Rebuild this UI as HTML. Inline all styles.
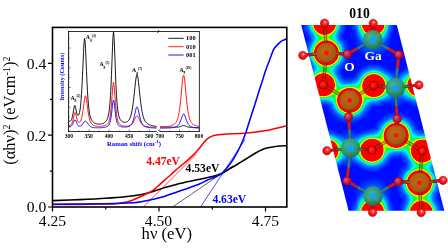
<!DOCTYPE html>
<html><head><meta charset="utf-8"><title>figure</title>
<style>
html,body{margin:0;padding:0;background:#fff;}
body{width:448px;height:252px;overflow:hidden;}
svg{display:block;}
text{font-family:"Liberation Serif",serif;}
.s{font-family:"Liberation Sans",sans-serif;font-weight:bold;}
</style></head><body>
<svg width="448" height="252" viewBox="0 0 448 252">
<defs>
<clipPath id="cp"><polygon points="301.2,25 396.8,25 444.3,210.7 348.6,210.7"/></clipPath>
<clipPath id="mp"><rect x="52.5" y="27.2" width="234.3" height="179.8"/></clipPath>
<radialGradient id="gF"><stop offset="0" stop-color="#fff" stop-opacity="1"/><stop offset="0.477" stop-color="#fff" stop-opacity="1"/><stop offset="0.493" stop-color="#fff" stop-opacity="0.875"/><stop offset="0.516" stop-color="#fff" stop-opacity="0.75"/><stop offset="0.543" stop-color="#fff" stop-opacity="0.625"/><stop offset="0.577" stop-color="#fff" stop-opacity="0.5"/><stop offset="0.627" stop-color="#fff" stop-opacity="0.375"/><stop offset="0.705" stop-color="#fff" stop-opacity="0.25"/><stop offset="0.832" stop-color="#fff" stop-opacity="0.125"/><stop offset="1" stop-color="#fff" stop-opacity="0"/></radialGradient>
<radialGradient id="gF2"><stop offset="0" stop-color="#fff" stop-opacity="1"/><stop offset="0.489" stop-color="#fff" stop-opacity="1"/><stop offset="0.504" stop-color="#fff" stop-opacity="0.875"/><stop offset="0.526" stop-color="#fff" stop-opacity="0.75"/><stop offset="0.551" stop-color="#fff" stop-opacity="0.625"/><stop offset="0.583" stop-color="#fff" stop-opacity="0.5"/><stop offset="0.630" stop-color="#fff" stop-opacity="0.375"/><stop offset="0.702" stop-color="#fff" stop-opacity="0.25"/><stop offset="0.821" stop-color="#fff" stop-opacity="0.125"/><stop offset="1" stop-color="#fff" stop-opacity="0"/></radialGradient>
<radialGradient id="gF3"><stop offset="0" stop-color="#fff" stop-opacity="0.2"/><stop offset="0.5" stop-color="#fff" stop-opacity="0.17"/><stop offset="1" stop-color="#fff" stop-opacity="0"/></radialGradient>
<filter id="bl" x="0" y="0" width="100%" height="100%" color-interpolation-filters="sRGB" filterUnits="objectBoundingBox">
<feGaussianBlur stdDeviation="0.35"/>
<feColorMatrix type="matrix" values="0 0 0 1 0  0 0 0 1 0  0 0 0 1 0  0 0 0 0 1"/>
<feComponentTransfer>
<feFuncR type="table" tableValues="0 0 0 0 0 0.75 1 1 1"/>
<feFuncG type="table" tableValues="0.05 0.28 0.60 1 1 1 0.85 0 0"/>
<feFuncB type="table" tableValues="1 1 1 1 0.15 0 0 0 0"/>
</feComponentTransfer>
</filter>
<filter id="sb2" x="-60%" y="-60%" width="220%" height="220%"><feGaussianBlur stdDeviation="1.1"/></filter>
<filter id="sb" x="-50%" y="-50%" width="200%" height="200%"><feGaussianBlur stdDeviation="0.6"/></filter>
<radialGradient id="gO" cx="0.4" cy="0.38" r="0.7"><stop offset="0" stop-color="#ff3828"/><stop offset="0.5" stop-color="#f80808"/><stop offset="1" stop-color="#c00000"/></radialGradient>
<radialGradient id="gO3" cx="0.55" cy="0.38" r="0.72"><stop offset="0" stop-color="#ffd8d0"/><stop offset="0.28" stop-color="#ff3030"/><stop offset="0.6" stop-color="#f01010"/><stop offset="1" stop-color="#a80008"/></radialGradient>
<radialGradient id="gO2" cx="0.4" cy="0.38" r="0.7"><stop offset="0" stop-color="#ff6a6a"/><stop offset="0.5" stop-color="#e8101c"/><stop offset="1" stop-color="#a00018"/></radialGradient>
<radialGradient id="gB" cx="0.45" cy="0.4" r="0.7"><stop offset="0" stop-color="#c06c14"/><stop offset="0.7" stop-color="#a85a10"/><stop offset="0.92" stop-color="#7a3a0c"/><stop offset="1" stop-color="#8a2008"/></radialGradient>
<radialGradient id="gT" cx="0.42" cy="0.36" r="0.75"><stop offset="0" stop-color="#50b890"/><stop offset="0.55" stop-color="#349468"/><stop offset="0.88" stop-color="#226a50"/><stop offset="1" stop-color="#1c5048"/></radialGradient>
</defs>
<rect width="448" height="252" fill="#fff"/>

<!-- main plot curves -->
<g clip-path="url(#mp)" fill="none" stroke-linejoin="round">
<path d="M143.3,207L196.5,154" stroke="#f00" stroke-width="0.7"/>
<path d="M172.5,207L233,165.7" stroke="#222" stroke-width="0.7"/>
<path d="M200.3,207.3L245,139.5" stroke="#00f" stroke-width="0.7"/>
<path d="M52.50,200.60 C57.08,200.43 71.08,199.98 80.00,199.60 C88.92,199.22 98.50,198.77 106.00,198.30 C113.50,197.83 119.33,197.40 125.00,196.80 C130.67,196.20 135.08,195.67 140.00,194.70 C144.92,193.73 150.33,192.18 154.50,191.00 C158.67,189.82 161.25,188.73 165.00,187.60 C168.75,186.47 172.83,185.27 177.00,184.20 C181.17,183.13 186.17,182.03 190.00,181.20 C193.83,180.37 196.67,179.90 200.00,179.20 C203.33,178.50 206.46,177.91 210.00,177.00 C213.54,176.09 217.92,175.15 221.25,173.75 C224.58,172.35 227.22,170.22 230.00,168.60 C232.78,166.97 235.23,165.60 237.90,164.00 C240.57,162.40 243.03,160.83 246.00,159.00 C248.97,157.17 253.03,154.53 255.70,153.00 C258.37,151.47 259.95,150.67 262.00,149.80 C264.05,148.93 265.48,148.40 268.00,147.80 C270.52,147.20 273.97,146.55 277.10,146.20 C280.23,145.85 285.18,145.78 286.80,145.70" stroke="#000" stroke-width="1.6"/>
<path d="M52.50,204.60 C61.42,204.52 94.75,204.33 106.00,204.10 C117.25,203.87 116.83,203.50 120.00,203.20 C123.17,202.90 122.83,202.85 125.00,202.30 C127.17,201.75 129.90,201.07 133.00,199.90 C136.10,198.73 140.35,196.85 143.60,195.30 C146.85,193.75 150.18,192.07 152.50,190.60 C154.82,189.13 155.53,188.22 157.50,186.50 C159.47,184.78 162.05,182.30 164.30,180.30 C166.55,178.30 168.67,176.55 171.00,174.50 C173.33,172.45 175.83,170.12 178.30,168.00 C180.77,165.88 183.42,163.87 185.80,161.80 C188.18,159.73 190.43,157.73 192.60,155.60 C194.77,153.47 197.00,151.10 198.80,149.00 C200.60,146.90 202.03,144.63 203.40,143.00 C204.77,141.37 205.65,140.30 207.00,139.20 C208.35,138.10 209.92,137.12 211.50,136.40 C213.08,135.68 213.88,135.32 216.50,134.90 C219.12,134.48 222.45,134.18 227.20,133.90 C231.95,133.62 238.47,133.78 245.00,133.20 C251.53,132.62 259.43,131.65 266.40,130.40 C273.37,129.15 283.40,126.48 286.80,125.70" stroke="#f00" stroke-width="1.55"/>
<path d="M52.50,204.30 C61.42,204.22 92.58,204.05 106.00,203.80 C119.42,203.55 126.73,203.22 133.00,202.80 C139.27,202.38 140.02,201.93 143.60,201.30 C147.18,200.67 150.93,199.85 154.50,199.00 C158.07,198.15 161.25,197.37 165.00,196.20 C168.75,195.03 172.83,193.45 177.00,192.00 C181.17,190.55 186.17,188.88 190.00,187.50 C193.83,186.12 197.08,184.95 200.00,183.70 C202.92,182.45 205.00,181.12 207.50,180.00 C210.00,178.88 212.71,178.04 215.00,177.00 C217.29,175.96 219.75,174.75 221.25,173.75 C222.75,172.75 223.03,172.01 224.00,171.00 C224.97,169.99 226.18,168.75 227.10,167.70 C228.02,166.65 228.70,165.75 229.50,164.70 C230.30,163.65 231.10,162.58 231.90,161.40 C232.70,160.22 233.52,158.92 234.30,157.60 C235.08,156.28 235.88,154.83 236.60,153.50 C237.32,152.17 237.93,150.93 238.60,149.60 C239.27,148.27 239.93,146.93 240.60,145.50 C241.27,144.07 241.93,142.58 242.60,141.00 C243.27,139.42 243.97,137.67 244.60,136.00 C245.23,134.33 245.83,132.70 246.40,131.00 C246.97,129.30 247.40,127.72 248.00,125.80 C248.60,123.88 249.23,121.90 250.00,119.50 C250.77,117.10 251.77,114.00 252.60,111.40 C253.43,108.80 254.13,106.62 255.00,103.90 C255.87,101.18 256.88,97.98 257.80,95.10 C258.72,92.22 259.52,89.68 260.50,86.60 C261.48,83.52 262.82,79.37 263.70,76.60 C264.58,73.83 264.93,72.48 265.80,70.00 C266.67,67.52 267.95,64.23 268.90,61.70 C269.85,59.17 270.70,56.87 271.50,54.80 C272.30,52.73 272.70,51.00 273.70,49.30 C274.70,47.60 276.20,45.95 277.50,44.60 C278.80,43.25 280.42,41.97 281.50,41.20 C282.58,40.43 283.12,40.40 284.00,40.00 C284.88,39.60 286.33,39.00 286.80,38.80" stroke="#00f" stroke-width="1.55"/>
</g>
<!-- main frame -->
<rect x="52.5" y="27.4" width="234.3" height="179.6" fill="none" stroke="#000" stroke-width="1.6"/>
<g stroke="#000" stroke-width="1.2" fill="none">
<path d="M52.5,207v4.5M159,207v4.5M265.5,207v4.5M105.75,207v2.6M212.25,207v2.6"/>
<path d="M52.5,207h-4.5M52.5,135.2h-4.5M52.5,63.4h-4.5M52.5,171.1h-2.6M52.5,99.3h-2.6"/>
</g>
<g font-size="15.6px" fill="#000">
<text x="46.3" y="212.4" text-anchor="end">0.0</text>
<text x="46.3" y="140.6" text-anchor="end">0.2</text>
<text x="46.3" y="68.8" text-anchor="end">0.4</text>
<text x="52.5" y="225.8" text-anchor="middle">4.25</text>
<text x="158.5" y="225.8" text-anchor="middle">4.50</text>
<text x="265.5" y="225.8" text-anchor="middle">4.75</text>
<text x="166.8" y="239.4" text-anchor="middle" font-size="16.6px">hν (eV)</text>
<text transform="translate(15.4,164.8) rotate(-90)" font-size="16.5px">(αhν)<tspan dy="-5" font-size="10px">2</tspan><tspan dy="5"> (eVcm</tspan><tspan dy="-5" font-size="10px">-1</tspan><tspan dy="5">)</tspan><tspan dy="-5" font-size="10px">2</tspan></text>
</g>
<g font-size="11.6px" font-weight="bold">
<text x="146.2" y="165" fill="#f00">4.47eV</text>
<text x="185.6" y="172" fill="#000">4.53eV</text>
<text x="212.4" y="203.2" fill="#00f">4.63eV</text>
</g>

<!-- inset -->
<rect x="68.5" y="31.5" width="130.8" height="100.1" fill="#fff" stroke="#000" stroke-width="0.8"/>
<g fill="none" stroke-width="0.9" stroke-linejoin="round">
<path d="M69.00,121.22 L69.50,121.29 L70.00,121.21 L70.50,120.94 L71.00,120.42 L71.50,119.55 L72.00,118.22 L72.50,116.33 L73.00,113.84 L73.50,110.87 L74.00,107.88 L74.50,105.78 L75.00,105.54 L75.50,107.14 L76.00,109.61 L76.50,112.02 L77.00,113.88 L77.50,115.04 L78.00,115.49 L78.50,115.26 L79.00,114.33 L79.50,112.64 L80.00,110.04 L80.50,106.33 L81.00,101.22 L81.50,94.48 L82.00,85.94 L82.50,75.66 L83.00,64.10 L83.50,52.47 L84.00,42.99 L84.50,38.43 L85.00,40.50 L85.50,48.43 L86.00,59.61 L86.50,71.50 L87.00,82.50 L87.50,91.89 L88.00,99.49 L88.50,105.40 L89.00,109.87 L89.50,113.18 L90.00,115.61 L90.50,117.41 L91.00,118.76 L91.50,119.80 L92.00,120.62 L92.50,121.27 L93.00,121.81 L93.50,122.26 L94.00,122.64 L94.50,122.95 L95.00,123.21 L95.50,123.43 L96.00,123.62 L96.50,123.77 L97.00,123.89 L97.50,123.98 L98.00,124.05 L98.50,124.09 L99.00,124.11 L99.50,124.11 L100.00,124.09 L100.50,124.05 L101.00,123.98 L101.50,123.89 L102.00,123.76 L102.50,123.61 L103.00,123.43 L103.50,123.20 L104.00,122.93 L104.50,122.60 L105.00,122.21 L105.50,121.74 L106.00,121.17 L106.50,120.47 L107.00,119.60 L107.50,118.48 L108.00,117.00 L108.50,114.99 L109.00,112.20 L109.50,108.30 L110.00,102.89 L110.50,95.59 L111.00,86.08 L111.50,74.33 L112.00,60.83 L112.50,47.13 L113.00,36.26 L113.50,32.00 L114.00,36.23 L114.50,47.07 L115.00,60.73 L115.50,74.19 L116.00,85.91 L116.50,95.38 L117.00,102.65 L117.50,108.01 L118.00,111.87 L118.50,114.62 L119.00,116.58 L119.50,118.01 L120.00,119.08 L120.50,119.89 L121.00,120.53 L121.50,121.03 L122.00,121.42 L122.50,121.73 L123.00,121.96 L123.50,122.13 L124.00,122.24 L124.50,122.29 L125.00,122.29 L125.50,122.25 L126.00,122.15 L126.50,121.99 L127.00,121.76 L127.50,121.47 L128.00,121.08 L128.50,120.57 L129.00,119.93 L129.50,119.12 L130.00,118.09 L130.50,116.79 L131.00,115.17 L131.50,113.18 L132.00,110.77 L132.50,107.87 L133.00,104.48 L133.50,100.58 L134.00,96.23 L134.50,91.53 L135.00,86.70 L135.50,82.09 L136.00,78.18 L136.50,75.53 L137.00,74.60 L137.50,75.58 L138.00,78.29 L138.50,82.25 L139.00,86.92 L139.50,91.81 L140.00,96.56 L140.50,100.98 L141.00,104.94 L141.50,108.40 L142.00,111.36 L142.50,113.85 L143.00,115.91 L143.50,117.61 L144.00,118.99 L144.50,120.11 L145.00,121.02 L145.50,121.76 L146.00,122.38 L146.50,122.89 L147.00,123.32 L147.50,123.69 L148.00,124.01 L148.50,124.29 L149.00,124.53 L149.50,124.75 L150.00,124.95 L150.50,125.13 L151.00,125.29 L151.50,125.43 L152.00,125.57 L152.50,125.69 L153.00,125.80 L153.50,125.90 L154.00,125.99 L154.50,126.08 L155.00,126.16 L155.50,126.24 L156.00,126.30 L156.50,126.37" stroke="#000"/>
<path d="M160.00,126.71 L160.50,126.75 L161.00,126.78 L161.50,126.82 L162.00,126.85 L162.50,126.88 L163.00,126.90 L163.50,126.93 L164.00,126.96 L164.50,126.98 L165.00,127.00 L165.50,127.02 L166.00,127.04 L166.50,127.06 L167.00,127.08 L167.50,127.09 L168.00,127.11 L168.50,127.12 L169.00,127.13 L169.50,127.15 L170.00,127.16 L170.50,127.17 L171.00,127.18 L171.50,127.18 L172.00,127.19 L172.50,127.19 L173.00,127.20 L173.50,127.20 L174.00,127.20 L174.50,127.20 L175.00,127.19 L175.50,127.18 L176.00,127.17 L176.50,127.15 L177.00,127.12 L177.50,127.09 L178.00,127.04 L178.50,126.97 L179.00,126.89 L179.50,126.78 L180.00,126.64 L180.50,126.48 L181.00,126.30 L181.50,126.10 L182.00,125.89 L182.50,125.70 L183.00,125.56 L183.50,125.50 L184.00,125.54 L184.50,125.66 L185.00,125.85 L185.50,126.06 L186.00,126.28 L186.50,126.48 L187.00,126.66 L187.50,126.82 L188.00,126.95 L188.50,127.06 L189.00,127.14 L189.50,127.21 L190.00,127.26 L190.50,127.31 L191.00,127.34 L191.50,127.37 L192.00,127.40 L192.50,127.42 L193.00,127.43 L193.50,127.45 L194.00,127.46 L194.50,127.47 L195.00,127.49 L195.50,127.50 L196.00,127.51 L196.50,127.51 L197.00,127.52 L197.50,127.53 L198.00,127.54 L198.50,127.54 L199.00,127.55" stroke="#000"/>
<path d="M69.00,125.54 L69.50,125.45 L70.00,125.28 L70.50,125.02 L71.00,124.62 L71.50,124.00 L72.00,123.09 L72.50,121.79 L73.00,120.04 L73.50,117.87 L74.00,115.47 L74.50,113.41 L75.00,112.50 L75.50,113.21 L76.00,115.08 L76.50,117.27 L77.00,119.22 L77.50,120.72 L78.00,121.73 L78.50,122.30 L79.00,122.50 L79.50,122.37 L80.00,121.93 L80.50,121.17 L81.00,120.05 L81.50,118.48 L82.00,116.42 L82.50,113.81 L83.00,110.64 L83.50,106.99 L84.00,103.09 L84.50,99.42 L85.00,96.70 L85.50,95.70 L86.00,96.75 L86.50,99.52 L87.00,103.25 L87.50,107.20 L88.00,110.92 L88.50,114.16 L89.00,116.86 L89.50,119.03 L90.00,120.71 L90.50,122.00 L91.00,122.97 L91.50,123.70 L92.00,124.26 L92.50,124.68 L93.00,125.02 L93.50,125.28 L94.00,125.50 L94.50,125.68 L95.00,125.82 L95.50,125.95 L96.00,126.05 L96.50,126.13 L97.00,126.20 L97.50,126.26 L98.00,126.30 L98.50,126.33 L99.00,126.35 L99.50,126.36 L100.00,126.36 L100.50,126.34 L101.00,126.32 L101.50,126.28 L102.00,126.24 L102.50,126.17 L103.00,126.10 L103.50,126.00 L104.00,125.89 L104.50,125.75 L105.00,125.58 L105.50,125.38 L106.00,125.13 L106.50,124.83 L107.00,124.45 L107.50,123.97 L108.00,123.34 L108.50,122.48 L109.00,121.28 L109.50,119.57 L110.00,117.16 L110.50,113.81 L111.00,109.34 L111.50,103.69 L112.00,97.04 L112.50,90.13 L113.00,84.52 L113.50,82.30 L114.00,84.52 L114.50,90.13 L115.00,97.04 L115.50,103.69 L116.00,109.34 L116.50,113.81 L117.00,117.15 L117.50,119.57 L118.00,121.27 L118.50,122.48 L119.00,123.33 L119.50,123.97 L120.00,124.44 L120.50,124.82 L121.00,125.12 L121.50,125.36 L122.00,125.56 L122.50,125.72 L123.00,125.86 L123.50,125.97 L124.00,126.05 L124.50,126.12 L125.00,126.17 L125.50,126.21 L126.00,126.22 L126.50,126.23 L127.00,126.21 L127.50,126.18 L128.00,126.13 L128.50,126.05 L129.00,125.95 L129.50,125.80 L130.00,125.61 L130.50,125.37 L131.00,125.05 L131.50,124.65 L132.00,124.14 L132.50,123.53 L133.00,122.78 L133.50,121.91 L134.00,120.92 L134.50,119.82 L135.00,118.68 L135.50,117.56 L136.00,116.60 L136.50,115.93 L137.00,115.70 L137.50,115.95 L138.00,116.63 L138.50,117.61 L139.00,118.75 L139.50,119.91 L140.00,121.02 L140.50,122.04 L141.00,122.93 L141.50,123.69 L142.00,124.33 L142.50,124.86 L143.00,125.29 L143.50,125.63 L144.00,125.91 L144.50,126.13 L145.00,126.30 L145.50,126.45 L146.00,126.56 L146.50,126.66 L147.00,126.74 L147.50,126.81 L148.00,126.87 L148.50,126.92 L149.00,126.96 L149.50,127.00 L150.00,127.03 L150.50,127.06 L151.00,127.09 L151.50,127.11 L152.00,127.13 L152.50,127.14 L153.00,127.15 L153.50,127.16 L154.00,127.17 L154.50,127.17 L155.00,127.18 L155.50,127.18 L156.00,127.18 L156.50,127.18" stroke="#f00"/>
<path d="M160.00,127.10 L160.50,127.09 L161.00,127.06 L161.50,127.04 L162.00,127.02 L162.50,126.99 L163.00,126.96 L163.50,126.92 L164.00,126.89 L164.50,126.85 L165.00,126.80 L165.50,126.75 L166.00,126.70 L166.50,126.64 L167.00,126.57 L167.50,126.50 L168.00,126.42 L168.50,126.34 L169.00,126.24 L169.50,126.13 L170.00,126.02 L170.50,125.88 L171.00,125.74 L171.50,125.57 L172.00,125.39 L172.50,125.18 L173.00,124.94 L173.50,124.67 L174.00,124.35 L174.50,123.98 L175.00,123.54 L175.50,123.01 L176.00,122.35 L176.50,121.53 L177.00,120.50 L177.50,119.20 L178.00,117.55 L178.50,115.47 L179.00,112.88 L179.50,109.70 L180.00,105.89 L180.50,101.44 L181.00,96.41 L181.50,90.97 L182.00,85.46 L182.50,80.46 L183.00,76.74 L183.50,75.05 L184.00,75.79 L184.50,78.78 L185.00,83.37 L185.50,88.76 L186.00,94.28 L186.50,99.51 L187.00,104.21 L187.50,108.28 L188.00,111.71 L188.50,114.53 L189.00,116.81 L189.50,118.62 L190.00,120.06 L190.50,121.19 L191.00,122.09 L191.50,122.81 L192.00,123.39 L192.50,123.87 L193.00,124.27 L193.50,124.61 L194.00,124.90 L194.50,125.16 L195.00,125.38 L195.50,125.58 L196.00,125.76 L196.50,125.92 L197.00,126.06 L197.50,126.18 L198.00,126.30 L198.50,126.40 L199.00,126.50" stroke="#f00"/>
<path d="M69.00,126.56 L69.50,126.58 L70.00,126.54 L70.50,126.43 L71.00,126.22 L71.50,125.88 L72.00,125.36 L72.50,124.61 L73.00,123.62 L73.50,122.42 L74.00,121.12 L74.50,120.04 L75.00,119.60 L75.50,120.03 L76.00,121.10 L76.50,122.38 L77.00,123.57 L77.50,124.53 L78.00,125.25 L78.50,125.72 L79.00,126.00 L79.50,126.12 L80.00,126.10 L80.50,125.97 L81.00,125.73 L81.50,125.38 L82.00,124.93 L82.50,124.36 L83.00,123.71 L83.50,122.99 L84.00,122.26 L84.50,121.61 L85.00,121.15 L85.50,121.00 L86.00,121.19 L86.50,121.69 L87.00,122.38 L87.50,123.15 L88.00,123.92 L88.50,124.63 L89.00,125.25 L89.50,125.78 L90.00,126.22 L90.50,126.57 L91.00,126.85 L91.50,127.07 L92.00,127.24 L92.50,127.37 L93.00,127.48 L93.50,127.56 L94.00,127.62 L94.50,127.67 L95.00,127.71 L95.50,127.74 L96.00,127.77 L96.50,127.78 L97.00,127.80 L97.50,127.80 L98.00,127.81 L98.50,127.81 L99.00,127.80 L99.50,127.79 L100.00,127.78 L100.50,127.76 L101.00,127.73 L101.50,127.70 L102.00,127.66 L102.50,127.62 L103.00,127.56 L103.50,127.50 L104.00,127.43 L104.50,127.34 L105.00,127.24 L105.50,127.12 L106.00,126.97 L106.50,126.79 L107.00,126.57 L107.50,126.29 L108.00,125.93 L108.50,125.44 L109.00,124.77 L109.50,123.80 L110.00,122.40 L110.50,120.41 L111.00,117.69 L111.50,114.14 L112.00,109.87 L112.50,105.32 L113.00,101.53 L113.50,100.00 L114.00,101.51 L114.50,105.28 L115.00,109.83 L115.50,114.08 L116.00,117.61 L116.50,120.32 L117.00,122.28 L117.50,123.67 L118.00,124.62 L118.50,125.28 L119.00,125.74 L119.50,126.08 L120.00,126.33 L120.50,126.53 L121.00,126.68 L121.50,126.80 L122.00,126.89 L122.50,126.96 L123.00,127.01 L123.50,127.04 L124.00,127.06 L124.50,127.06 L125.00,127.05 L125.50,127.02 L126.00,126.98 L126.50,126.92 L127.00,126.84 L127.50,126.75 L128.00,126.63 L128.50,126.48 L129.00,126.29 L129.50,126.05 L130.00,125.74 L130.50,125.35 L131.00,124.84 L131.50,124.19 L132.00,123.35 L132.50,122.30 L133.00,120.99 L133.50,119.41 L134.00,117.55 L134.50,115.43 L135.00,113.14 L135.50,110.83 L136.00,108.78 L136.50,107.33 L137.00,106.80 L137.50,107.34 L138.00,108.80 L138.50,110.87 L139.00,113.18 L139.50,115.49 L140.00,117.61 L140.50,119.49 L141.00,121.08 L141.50,122.40 L142.00,123.47 L142.50,124.32 L143.00,124.99 L143.50,125.52 L144.00,125.93 L144.50,126.26 L145.00,126.52 L145.50,126.73 L146.00,126.90 L146.50,127.05 L147.00,127.18 L147.50,127.29 L148.00,127.38 L148.50,127.47 L149.00,127.54 L149.50,127.60 L150.00,127.66 L150.50,127.71 L151.00,127.76 L151.50,127.80 L152.00,127.84 L152.50,127.87 L153.00,127.91 L153.50,127.93 L154.00,127.96 L154.50,127.98 L155.00,128.00 L155.50,128.02 L156.00,128.03 L156.50,128.05" stroke="#00f"/>
<path d="M160.00,128.11 L160.50,128.11 L161.00,128.12 L161.50,128.12 L162.00,128.12 L162.50,128.12 L163.00,128.11 L163.50,128.11 L164.00,128.10 L164.50,128.10 L165.00,128.09 L165.50,128.08 L166.00,128.07 L166.50,128.06 L167.00,128.04 L167.50,128.03 L168.00,128.01 L168.50,127.99 L169.00,127.96 L169.50,127.94 L170.00,127.90 L170.50,127.87 L171.00,127.83 L171.50,127.79 L172.00,127.73 L172.50,127.68 L173.00,127.61 L173.50,127.53 L174.00,127.44 L174.50,127.34 L175.00,127.21 L175.50,127.05 L176.00,126.86 L176.50,126.62 L177.00,126.32 L177.50,125.94 L178.00,125.47 L178.50,124.87 L179.00,124.14 L179.50,123.25 L180.00,122.20 L180.50,120.99 L181.00,119.63 L181.50,118.17 L182.00,116.72 L182.50,115.41 L183.00,114.45 L183.50,114.01 L184.00,114.20 L184.50,114.98 L185.00,116.18 L185.50,117.60 L186.00,119.07 L186.50,120.48 L187.00,121.76 L187.50,122.88 L188.00,123.84 L188.50,124.63 L189.00,125.28 L189.50,125.81 L190.00,126.22 L190.50,126.56 L191.00,126.82 L191.50,127.04 L192.00,127.21 L192.50,127.35 L193.00,127.47 L193.50,127.57 L194.00,127.66 L194.50,127.73 L195.00,127.80 L195.50,127.85 L196.00,127.91 L196.50,127.95 L197.00,127.99 L197.50,128.03 L198.00,128.07 L198.50,128.10 L199.00,128.13" stroke="#00f"/>
</g>
<g stroke="#000" stroke-width="0.5" fill="none"><path d="M68.90,131.6v-2.2"/><path d="M78.95,131.6v-1.2"/><path d="M89.00,131.6v-2.2"/><path d="M99.05,131.6v-1.2"/><path d="M109.10,131.6v-2.2"/><path d="M119.15,131.6v-1.2"/><path d="M129.20,131.6v-2.2"/><path d="M139.25,131.6v-1.2"/><path d="M149.30,131.6v-2.2"/><path d="M159.80,131.6v-2.2"/><path d="M169.67,131.6v-1.2"/><path d="M179.54,131.6v-2.2"/><path d="M189.41,131.6v-1.2"/><path d="M199.28,131.6v-2.2"/><path d="M68.5,127.00h2.2"/><path d="M68.5,125.03h0.9"/><path d="M68.5,123.05h0.9"/><path d="M68.5,121.08h0.9"/><path d="M68.5,119.10h0.9"/><path d="M68.5,117.12h1.5"/><path d="M68.5,115.15h0.9"/><path d="M68.5,113.17h0.9"/><path d="M68.5,111.20h0.9"/><path d="M68.5,109.22h0.9"/><path d="M68.5,107.25h2.2"/><path d="M68.5,105.28h0.9"/><path d="M68.5,103.30h0.9"/><path d="M68.5,101.33h0.9"/><path d="M68.5,99.35h0.9"/><path d="M68.5,97.38h1.5"/><path d="M68.5,95.40h0.9"/><path d="M68.5,93.42h0.9"/><path d="M68.5,91.45h0.9"/><path d="M68.5,89.47h0.9"/><path d="M68.5,87.50h2.2"/><path d="M68.5,85.53h0.9"/><path d="M68.5,83.55h0.9"/><path d="M68.5,81.57h0.9"/><path d="M68.5,79.60h0.9"/><path d="M68.5,77.62h1.5"/><path d="M68.5,75.65h0.9"/><path d="M68.5,73.67h0.9"/><path d="M68.5,71.70h0.9"/><path d="M68.5,69.72h0.9"/><path d="M68.5,67.75h2.2"/><path d="M68.5,65.78h0.9"/><path d="M68.5,63.80h0.9"/><path d="M68.5,61.83h0.9"/><path d="M68.5,59.85h0.9"/><path d="M68.5,57.88h1.5"/><path d="M68.5,55.90h0.9"/><path d="M68.5,53.92h0.9"/><path d="M68.5,51.95h0.9"/><path d="M68.5,49.97h0.9"/><path d="M68.5,48.00h2.2"/><path d="M68.5,46.02h0.9"/><path d="M68.5,44.05h0.9"/><path d="M68.5,42.08h0.9"/><path d="M68.5,40.10h0.9"/><path d="M68.5,38.12h1.5"/><path d="M68.5,36.15h0.9"/><path d="M68.5,34.17h0.9"/>
<path d="M157.2,133.2l1.6,-3.2M157.4,33l1.6,-3" stroke-width="0.7"/>
</g>
<rect x="156.6" y="130.9" width="2.8" height="1.4" fill="#fff"/>
<g font-size="5.6px" font-weight="bold" fill="#000" text-anchor="middle">
<text x="68.9" y="138.4">300</text><text x="88.6" y="138.4">350</text><text x="108.9" y="138.4">400</text><text x="129.2" y="138.4">450</text><text x="149.1" y="138.4">500</text><text x="159.9" y="138.4">700</text><text x="179.6" y="138.4">750</text><text x="199" y="138.4">800</text>
</g>
<text x="134" y="145.7" text-anchor="middle" font-size="6.7px" font-weight="bold" fill="#00f">Raman shift (cm<tspan dy="-2.4" font-size="5px">-1</tspan><tspan dy="2.4">)</tspan></text>
<text transform="translate(63.8,100.6) rotate(-90)" font-size="6.2px" font-weight="bold" fill="#00f">Intensity (Counts)</text>
<g class="s" font-size="5.8px" fill="#000">
<text x="85.8" y="39.2">A<tspan dy="1.3" font-size="3.6px">g</tspan><tspan dy="-3.9" font-size="3.6px">(3)</tspan></text><text x="99.4" y="66.2">A<tspan dy="1.3" font-size="3.6px">g</tspan><tspan dy="-3.9" font-size="3.6px">(5)</tspan></text><text x="70.4" y="99.6">A<tspan dy="1.3" font-size="3.6px">g</tspan><tspan dy="-3.9" font-size="3.6px">(2)</tspan></text><text x="132.0" y="72.2">A<tspan dy="1.3" font-size="3.6px">g</tspan><tspan dy="-3.9" font-size="3.6px">(7)</tspan></text><text x="179.4" y="71.8">A<tspan dy="1.3" font-size="3.6px">g</tspan><tspan dy="-3.9" font-size="3.6px">(10)</tspan></text>
</g>
<g stroke-width="0.9">
<path d="M168.4,38.3h15.2" stroke="#000"/><path d="M168.4,46.7h15.2" stroke="#f00"/><path d="M168.4,55h15.2" stroke="#00f"/>
</g>
<g font-size="6.4px" font-weight="bold" fill="#000">
<text x="186" y="40.4">100</text><text x="186" y="48.8">010</text><text x="186" y="57.2">001</text>
</g>

<!-- right structure -->
<text x="359.5" y="18" text-anchor="middle" font-size="13.6px" font-weight="bold" fill="#000">010</text>
<g clip-path="url(#cp)">
<g filter="url(#bl)"><rect x="295" y="20" width="155" height="195" fill="#fff" fill-opacity="0"/>
<circle cx="324.6" cy="23.2" r="22.5" fill="url(#gF)"/><circle cx="373.2" cy="23.4" r="22.5" fill="url(#gF)"/><circle cx="323.4" cy="84.8" r="22.5" fill="url(#gF)"/><circle cx="373.8" cy="85.6" r="22.5" fill="url(#gF)"/><circle cx="418.9" cy="85.0" r="22.5" fill="url(#gF)"/><circle cx="421.2" cy="212.6" r="22.5" fill="url(#gF)"/><circle cx="372.6" cy="212.4" r="22.5" fill="url(#gF)"/><circle cx="422.4" cy="151.0" r="22.5" fill="url(#gF)"/><circle cx="372.0" cy="150.2" r="22.5" fill="url(#gF)"/><circle cx="326.9" cy="150.8" r="22.5" fill="url(#gF)"/><circle cx="372.8" cy="39.7" r="19" fill="url(#gF3)"/><circle cx="395.3" cy="87.8" r="19" fill="url(#gF3)"/><circle cx="373.0" cy="196.1" r="19" fill="url(#gF3)"/><circle cx="350.5" cy="148.0" r="19" fill="url(#gF3)"/><circle cx="326.4" cy="53.0" r="24.0" fill="url(#gF2)"/><circle cx="349.6" cy="100.4" r="24.0" fill="url(#gF2)"/><circle cx="419.4" cy="182.8" r="24.0" fill="url(#gF2)"/><circle cx="396.2" cy="135.4" r="24.0" fill="url(#gF2)"/></g>
</g>
<g fill="none" stroke-linecap="butt">
<path d="M326.4,53.0L324.6,23.2" stroke="#8a5a10" stroke-opacity="0.35" stroke-width="2.5"/><path d="M327.6,52.9L325.8,23.1" stroke="#4a1800" stroke-opacity="0.8" stroke-width="0.7"/><path d="M325.2,53.1L323.4,23.3" stroke="#4a1800" stroke-opacity="0.8" stroke-width="0.7"/><path d="M326.4,53.0L302.8,55.4" stroke="#40101a" stroke-width="3.1"/><path d="M326.4,53.0L312.2,54.4" stroke="#a0561a" stroke-width="2.2"/><path d="M312.2,54.4L302.8,55.4" stroke="#dc1018" stroke-width="2.2"/><path d="M326.4,53.0L347.4,54.2" stroke="#40101a" stroke-width="3.1"/><path d="M326.4,53.0L339.0,53.7" stroke="#a0561a" stroke-width="2.2"/><path d="M339.0,53.7L347.4,54.2" stroke="#dc1018" stroke-width="2.2"/><path d="M326.4,53.0L323.4,84.8" stroke="#8a5a10" stroke-opacity="0.35" stroke-width="2.5"/><path d="M325.2,52.9L322.2,84.7" stroke="#4a1800" stroke-opacity="0.8" stroke-width="0.7"/><path d="M327.6,53.1L324.6,84.9" stroke="#4a1800" stroke-opacity="0.8" stroke-width="0.7"/><path d="M349.6,100.4L323.4,84.8" stroke="#8a5a10" stroke-opacity="0.35" stroke-width="2.5"/><path d="M350.2,99.3L324.0,83.7" stroke="#4a1800" stroke-opacity="0.8" stroke-width="0.7"/><path d="M349.0,101.5L322.8,85.9" stroke="#4a1800" stroke-opacity="0.8" stroke-width="0.7"/><path d="M349.6,100.4L373.8,85.6" stroke="#8a5a10" stroke-opacity="0.35" stroke-width="2.5"/><path d="M350.3,101.5L374.5,86.7" stroke="#4a1800" stroke-opacity="0.8" stroke-width="0.7"/><path d="M348.9,99.3L373.1,84.5" stroke="#4a1800" stroke-opacity="0.8" stroke-width="0.7"/><path d="M349.6,100.4L348.6,117.0" stroke="#40101a" stroke-width="3.1"/><path d="M349.6,100.4L349.0,110.4" stroke="#a0561a" stroke-width="2.2"/><path d="M349.0,110.4L348.6,117.0" stroke="#dc1018" stroke-width="2.2"/><path d="M396.2,135.4L397.2,118.8" stroke="#40101a" stroke-width="3.1"/><path d="M396.2,135.4L396.8,125.4" stroke="#a0561a" stroke-width="2.2"/><path d="M396.8,125.4L397.2,118.8" stroke="#dc1018" stroke-width="2.2"/><path d="M419.4,182.8L421.2,212.6" stroke="#8a5a10" stroke-opacity="0.35" stroke-width="2.5"/><path d="M418.2,182.9L420.0,212.7" stroke="#4a1800" stroke-opacity="0.8" stroke-width="0.7"/><path d="M420.6,182.7L422.4,212.5" stroke="#4a1800" stroke-opacity="0.8" stroke-width="0.7"/><path d="M419.4,182.8L443.0,180.4" stroke="#40101a" stroke-width="3.1"/><path d="M419.4,182.8L433.6,181.4" stroke="#a0561a" stroke-width="2.2"/><path d="M433.6,181.4L443.0,180.4" stroke="#dc1018" stroke-width="2.2"/><path d="M419.4,182.8L398.4,181.6" stroke="#40101a" stroke-width="3.1"/><path d="M419.4,182.8L406.8,182.1" stroke="#a0561a" stroke-width="2.2"/><path d="M406.8,182.1L398.4,181.6" stroke="#dc1018" stroke-width="2.2"/><path d="M419.4,182.8L422.4,151.0" stroke="#8a5a10" stroke-opacity="0.35" stroke-width="2.5"/><path d="M420.6,182.9L423.6,151.1" stroke="#4a1800" stroke-opacity="0.8" stroke-width="0.7"/><path d="M418.2,182.7L421.2,150.9" stroke="#4a1800" stroke-opacity="0.8" stroke-width="0.7"/><path d="M396.2,135.4L422.4,151.0" stroke="#8a5a10" stroke-opacity="0.35" stroke-width="2.5"/><path d="M395.6,136.5L421.8,152.1" stroke="#4a1800" stroke-opacity="0.8" stroke-width="0.7"/><path d="M396.8,134.3L423.0,149.9" stroke="#4a1800" stroke-opacity="0.8" stroke-width="0.7"/><path d="M396.2,135.4L372.0,150.2" stroke="#8a5a10" stroke-opacity="0.35" stroke-width="2.5"/><path d="M395.5,134.3L371.3,149.1" stroke="#4a1800" stroke-opacity="0.8" stroke-width="0.7"/><path d="M396.9,136.5L372.7,151.3" stroke="#4a1800" stroke-opacity="0.8" stroke-width="0.7"/><path d="M372.8,39.7L373.2,23.4" stroke="#3a2010" stroke-width="2.7"/><path d="M372.8,39.7L373.0,29.9" stroke="#2f7f70" stroke-width="1.8"/><path d="M373.0,29.9L373.2,23.4" stroke="#d01010" stroke-width="1.8"/><path d="M372.8,39.7L347.4,54.2" stroke="#30307a" stroke-width="3.4"/><path d="M372.8,39.7L357.6,48.4" stroke="#2a78a0" stroke-width="2.5"/><path d="M357.6,48.4L347.4,54.2" stroke="#dc1020" stroke-width="2.5"/><path d="M372.8,39.7L398.8,54.8" stroke="#30307a" stroke-width="3.4"/><path d="M372.8,39.7L388.4,48.8" stroke="#2a78a0" stroke-width="2.5"/><path d="M388.4,48.8L398.8,54.8" stroke="#dc1020" stroke-width="2.5"/><path d="M395.3,87.8L398.8,54.8" stroke="#30307a" stroke-width="3.4"/><path d="M395.3,87.8L397.4,68.0" stroke="#2a78a0" stroke-width="2.5"/><path d="M397.4,68.0L398.8,54.8" stroke="#dc1020" stroke-width="2.5"/><path d="M395.3,87.8L373.8,85.6" stroke="#3a2010" stroke-width="2.7"/><path d="M395.3,87.8L382.4,86.5" stroke="#2f7f70" stroke-width="1.8"/><path d="M382.4,86.5L373.8,85.6" stroke="#d01010" stroke-width="1.8"/><path d="M395.3,87.8L418.9,85.0" stroke="#3a2010" stroke-width="2.7"/><path d="M395.3,87.8L409.5,86.1" stroke="#2f7f70" stroke-width="1.8"/><path d="M409.5,86.1L418.9,85.0" stroke="#d01010" stroke-width="1.8"/><path d="M395.3,87.8L397.2,118.8" stroke="#30307a" stroke-width="3.4"/><path d="M395.3,87.8L396.4,106.4" stroke="#2a78a0" stroke-width="2.5"/><path d="M396.4,106.4L397.2,118.8" stroke="#dc1020" stroke-width="2.5"/><path d="M350.5,148.0L348.6,117.0" stroke="#30307a" stroke-width="3.4"/><path d="M350.5,148.0L349.4,129.4" stroke="#2a78a0" stroke-width="2.5"/><path d="M349.4,129.4L348.6,117.0" stroke="#dc1020" stroke-width="2.5"/><path d="M373.0,196.1L372.6,212.4" stroke="#3a2010" stroke-width="2.7"/><path d="M373.0,196.1L372.8,205.9" stroke="#2f7f70" stroke-width="1.8"/><path d="M372.8,205.9L372.6,212.4" stroke="#d01010" stroke-width="1.8"/><path d="M373.0,196.1L398.4,181.6" stroke="#30307a" stroke-width="3.4"/><path d="M373.0,196.1L388.2,187.4" stroke="#2a78a0" stroke-width="2.5"/><path d="M388.2,187.4L398.4,181.6" stroke="#dc1020" stroke-width="2.5"/><path d="M373.0,196.1L347.0,181.0" stroke="#30307a" stroke-width="3.4"/><path d="M373.0,196.1L357.4,187.0" stroke="#2a78a0" stroke-width="2.5"/><path d="M357.4,187.0L347.0,181.0" stroke="#dc1020" stroke-width="2.5"/><path d="M350.5,148.0L347.0,181.0" stroke="#30307a" stroke-width="3.4"/><path d="M350.5,148.0L348.4,167.8" stroke="#2a78a0" stroke-width="2.5"/><path d="M348.4,167.8L347.0,181.0" stroke="#dc1020" stroke-width="2.5"/><path d="M350.5,148.0L372.0,150.2" stroke="#3a2010" stroke-width="2.7"/><path d="M350.5,148.0L363.4,149.3" stroke="#2f7f70" stroke-width="1.8"/><path d="M363.4,149.3L372.0,150.2" stroke="#d01010" stroke-width="1.8"/><path d="M350.5,148.0L326.9,150.8" stroke="#3a2010" stroke-width="2.7"/><path d="M350.5,148.0L336.3,149.7" stroke="#2f7f70" stroke-width="1.8"/><path d="M336.3,149.7L326.9,150.8" stroke="#d01010" stroke-width="1.8"/>
</g>
<circle cx="324.6" cy="23.2" r="4.2" fill="url(#gO3)" stroke="#a00010" stroke-width="0.5"/><circle cx="373.2" cy="23.4" r="4.2" fill="url(#gO3)" stroke="#a00010" stroke-width="0.5"/><circle cx="323.4" cy="84.8" r="4.1" fill="url(#gO)" stroke="#8a0000" stroke-width="0.8"/><circle cx="373.8" cy="85.6" r="4.1" fill="url(#gO)" stroke="#8a0000" stroke-width="0.8"/><circle cx="418.9" cy="85.0" r="4.2" fill="url(#gO3)" stroke="#a00010" stroke-width="0.5"/><circle cx="421.2" cy="212.6" r="4.2" fill="url(#gO3)" stroke="#a00010" stroke-width="0.5"/><circle cx="372.6" cy="212.4" r="4.2" fill="url(#gO3)" stroke="#a00010" stroke-width="0.5"/><circle cx="422.4" cy="151.0" r="4.1" fill="url(#gO)" stroke="#8a0000" stroke-width="0.8"/><circle cx="372.0" cy="150.2" r="4.1" fill="url(#gO)" stroke="#8a0000" stroke-width="0.8"/><circle cx="326.9" cy="150.8" r="4.2" fill="url(#gO3)" stroke="#a00010" stroke-width="0.5"/><circle cx="302.8" cy="55.4" r="4.2" fill="url(#gO3)" stroke="#a00018" stroke-width="0.5"/><circle cx="347.4" cy="54.2" r="4.1" fill="url(#gO2)" stroke="#a00018" stroke-width="0.6"/><circle cx="347.4" cy="54.2" r="1.5" fill="#4060e0" fill-opacity="0.75" filter="url(#sb)"/><circle cx="398.8" cy="54.8" r="4.1" fill="url(#gO2)" stroke="#a00018" stroke-width="0.6"/><circle cx="398.8" cy="54.8" r="1.5" fill="#4060e0" fill-opacity="0.75" filter="url(#sb)"/><circle cx="348.6" cy="117.0" r="4.1" fill="url(#gO2)" stroke="#a00018" stroke-width="0.6"/><circle cx="348.6" cy="117.0" r="1.5" fill="#4060e0" fill-opacity="0.75" filter="url(#sb)"/><circle cx="397.2" cy="118.8" r="4.1" fill="url(#gO2)" stroke="#a00018" stroke-width="0.6"/><circle cx="397.2" cy="118.8" r="1.5" fill="#4060e0" fill-opacity="0.75" filter="url(#sb)"/><circle cx="443.0" cy="180.4" r="4.2" fill="url(#gO3)" stroke="#a00018" stroke-width="0.5"/><circle cx="398.4" cy="181.6" r="4.1" fill="url(#gO2)" stroke="#a00018" stroke-width="0.6"/><circle cx="398.4" cy="181.6" r="1.5" fill="#4060e0" fill-opacity="0.75" filter="url(#sb)"/><circle cx="347.0" cy="181.0" r="4.1" fill="url(#gO2)" stroke="#a00018" stroke-width="0.6"/><circle cx="347.0" cy="181.0" r="1.5" fill="#4060e0" fill-opacity="0.75" filter="url(#sb)"/><circle cx="326.4" cy="53.0" r="10.1" fill="url(#gB)"/><circle cx="326.4" cy="53.0" r="2.4" fill="#ff1010" filter="url(#sb)"/><circle cx="349.6" cy="100.4" r="10.1" fill="url(#gB)"/><circle cx="349.6" cy="100.4" r="2.4" fill="#ff1010" filter="url(#sb)"/><circle cx="419.4" cy="182.8" r="10.1" fill="url(#gB)"/><circle cx="419.4" cy="182.8" r="2.4" fill="#ff1010" filter="url(#sb)"/><circle cx="396.2" cy="135.4" r="10.1" fill="url(#gB)"/><circle cx="396.2" cy="135.4" r="2.4" fill="#ff1010" filter="url(#sb)"/><circle cx="372.8" cy="39.7" r="9.8" fill="url(#gT)" fill-opacity="0.92"/><circle cx="372.8" cy="39.7" r="3.2" fill="#10a0ff" filter="url(#sb2)"/><circle cx="395.3" cy="87.8" r="9.8" fill="url(#gT)" fill-opacity="0.92"/><circle cx="395.3" cy="87.8" r="3.2" fill="#10a0ff" filter="url(#sb2)"/><circle cx="373.0" cy="196.1" r="9.8" fill="url(#gT)" fill-opacity="0.92"/><circle cx="373.0" cy="196.1" r="3.2" fill="#10a0ff" filter="url(#sb2)"/><circle cx="350.5" cy="148.0" r="9.8" fill="url(#gT)" fill-opacity="0.92"/><circle cx="350.5" cy="148.0" r="3.2" fill="#10a0ff" filter="url(#sb2)"/>
<g font-size="13.4px" font-weight="bold" fill="#ffffdc">
<text x="364.6" y="59.8">Ga</text>
<text x="344.3" y="70.8">O</text>
</g>
</svg>
</body></html>
